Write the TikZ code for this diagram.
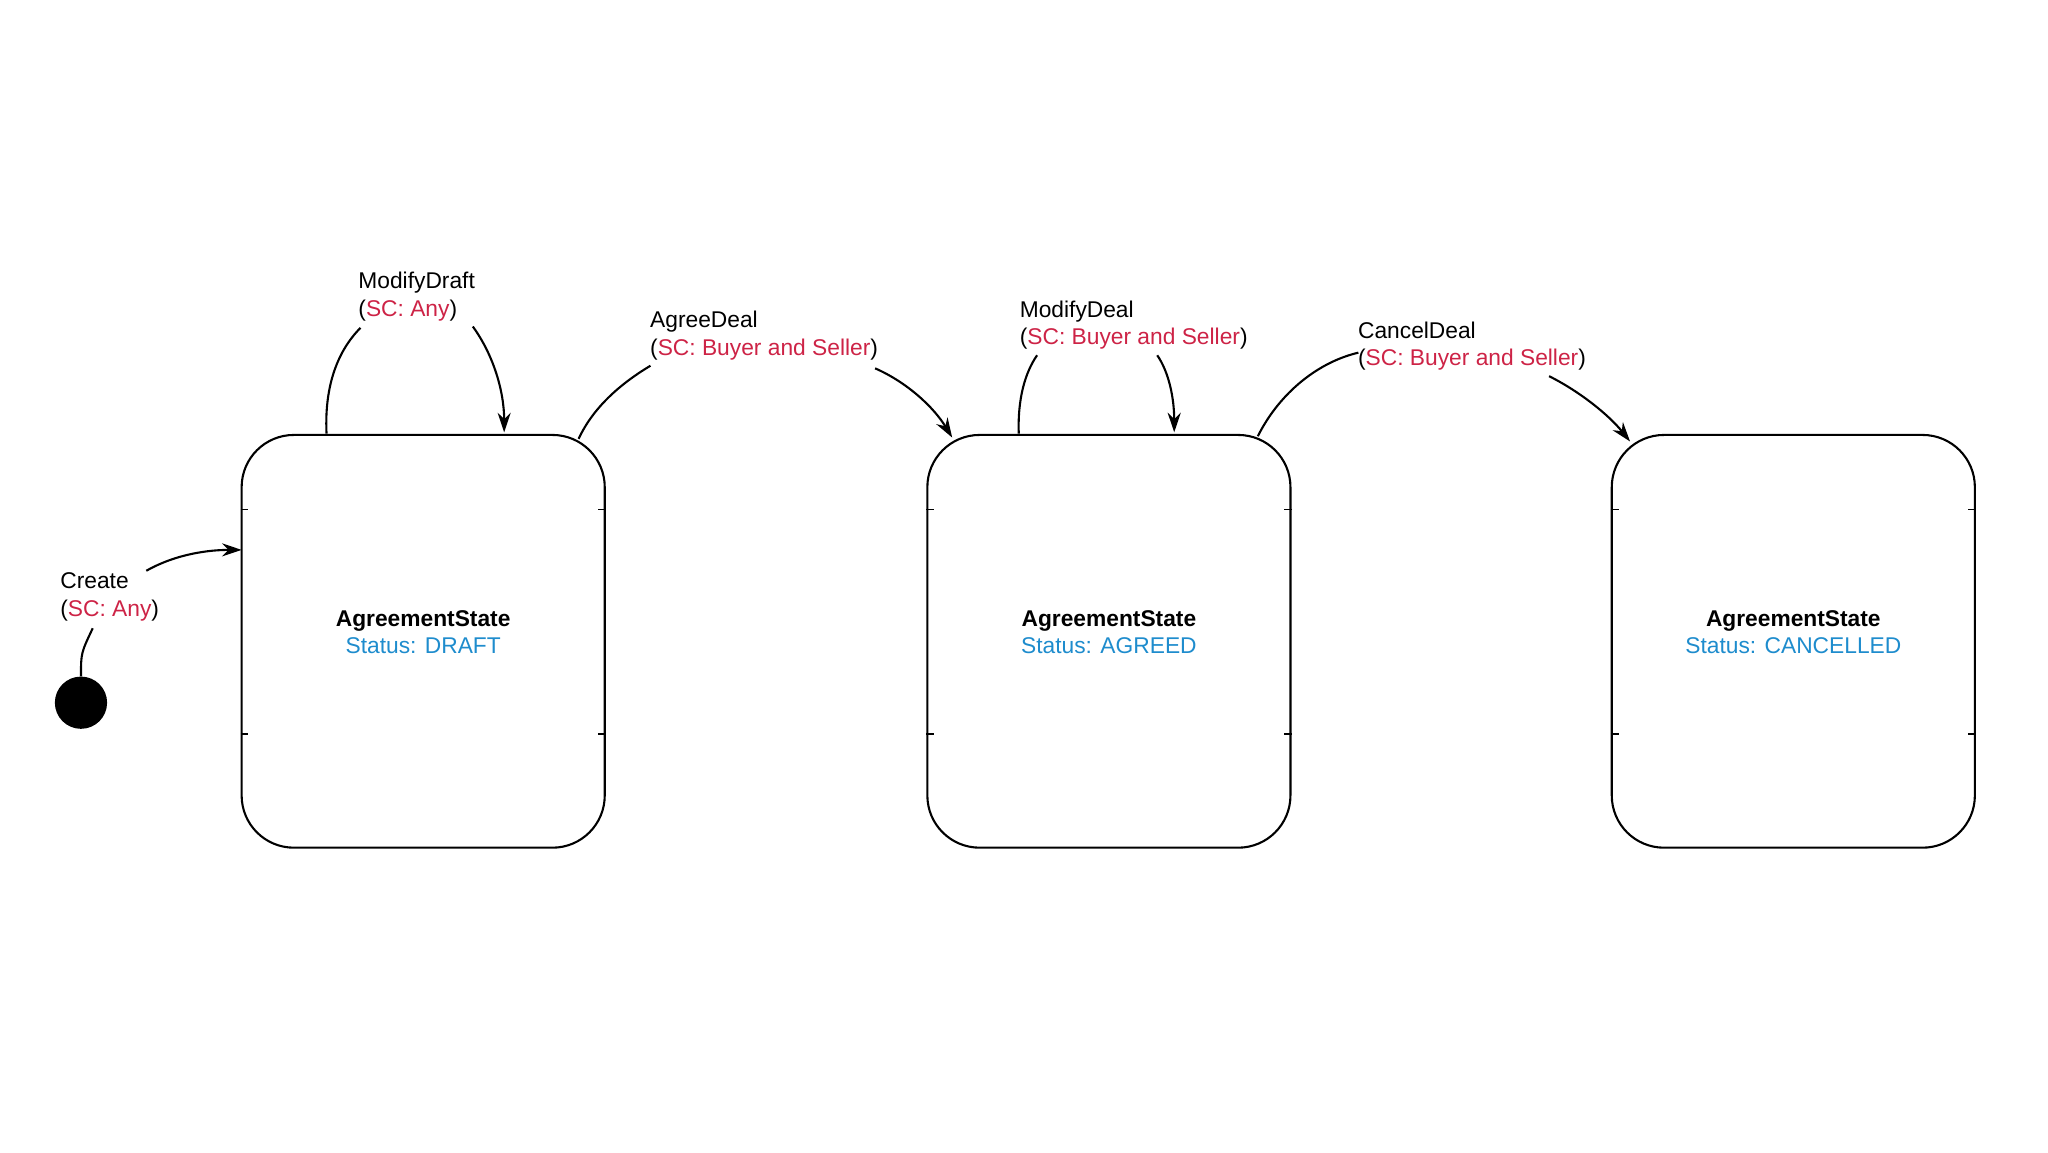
\documentclass[tikz,border=0pt]{standalone}
\usepackage{fontspec}
\setmainfont{Liberation Sans}
\usetikzlibrary{arrows.meta}
\definecolor{scred}{RGB}{205,35,70}
\definecolor{stblue}{RGB}{30,140,205}
\newcommand{\scguard}[1]{(\textcolor{scred}{SC: #1})}
\tikzset{x=1bp,y=-1bp,
 statebox/.style={draw,line width=1.6bp,rounded corners=40bp,minimum width=278bp,minimum height=316bp},
 stxt/.style={align=center,font=\fontsize{17.5}{21}\selectfont},
 lbl/.style={align=left,font=\fontsize{17.5}{21}\selectfont,inner sep=1bp},
 conn/.style={line width=1.6bp},
 arr/.style={line width=1.6bp,-{Stealth[length=15bp,width=10bp]}}}
\begin{document}
\begin{tikzpicture}
\useasboundingbox (0,0) rectangle (1568,882);
\node[statebox] (s1) at (324,491) {};
\node[statebox] (s2) at (849,491) {};
\node[statebox] (s3) at (1373,491) {};
\node[stxt] (t1) at (324,484) {\textbf{AgreementState}\\\textcolor{stblue}{Status: DRAFT}};
\node[stxt] (t2) at (849,484) {\textbf{AgreementState}\\\textcolor{stblue}{Status: AGREED}};
\node[stxt] (t3) at (1373,484) {\textbf{AgreementState}\\\textcolor{stblue}{Status: CANCELLED}};
\foreach \b in {s1,s2,s3}{
 \foreach \yy in {-101,71}{
  \draw[line width=1.2bp] ([yshift=-\yy bp]\b.west) -- ++(6,0);
  \draw[line width=1.2bp] ([yshift=-\yy bp]\b.east) -- ++(-6,0);}}
\fill (62,538) circle (20);
\node[circle,minimum size=40bp,inner sep=0] (dot) at (62,538) {};
\node[lbl] (lc) at (84,457) {Create\\\scguard{Any}};
\node[lbl] (lm1) at (319,227) {ModifyDraft\\\scguard{Any}};
\node[lbl] (la) at (585,257) {AgreeDeal\\\scguard{Buyer and Seller}};
\node[lbl] (lm2) at (868,249) {ModifyDeal\\\scguard{Buyer and Seller}};
\node[lbl] (lx) at (1127,265) {CancelDeal\\\scguard{Buyer and Seller}};
\coordinate (c1) at (185,421);
\draw[conn] (dot.north) .. controls (62,500) .. (71,481);
\draw[arr] (112,437) .. controls (135,424) and (160,421) .. (c1);
\draw[conn] (250,332) .. controls (248,290) and (262,265) .. (276,251);
\draw[arr] (362,250) .. controls (378,272) and (386,300) .. (386,331);
\draw[conn] (443,336) .. controls (455,310) and (478,292) .. (498,280);
\draw[arr] (670,282) .. controls (695,293) and (715,312) .. (729,335);
\draw[conn] (780,332) .. controls (779,305) and (785,285) .. (794,272);
\draw[arr] (886,272) .. controls (895,285) and (899,305) .. (899,331);
\draw[conn] (963,334) .. controls (980,300) and (1010,277) .. (1040,270);
\draw[arr] (1186,288) .. controls (1210,300) and (1232,318) .. (1248,338);
\end{tikzpicture}
\end{document}
